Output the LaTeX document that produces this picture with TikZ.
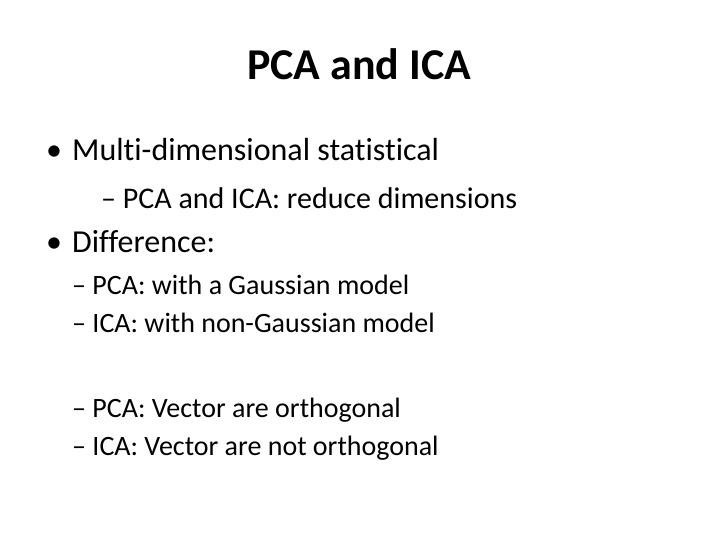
\documentclass[tikz,border=0pt]{standalone}
\usepackage{fontspec}
\setmainfont[Ligatures=NoCommon]{Carlito}
\begin{document}
\begin{tikzpicture}[x=1pt,y=-1pt,
  t/.style={anchor=base west,inner sep=0pt,font=\fontsize{32}{36}\selectfont},
  m/.style={anchor=base west,inner sep=0pt,font=\fontsize{30}{34}\selectfont},
  s/.style={anchor=base west,inner sep=0pt,font=\fontsize{28}{32}\selectfont}]
\useasboundingbox (0,0) rectangle (720,540);
\node[anchor=base,inner sep=0pt,font=\fontsize{44}{48}\selectfont\bfseries] (title) at (359,80) {PCA and ICA};
\node[t] (b1) at (46,161) {•};
\node[t] (l1) at (72,161) {Multi-dimensional statistical};
\node[m] (l2) at (101,208) {– PCA and ICA: reduce dimensions};
\node[t] (b2) at (46,252) {•};
\node[t] (l3) at (72,252) {Difference:};
\node[s] (l4) at (72,294) {– PCA: with a Gaussian model};
\node[s] (l5) at (72,332) {– ICA: with non-Gaussian model};
\node[s] (l6) at (72,417) {– PCA: Vector are orthogonal};
\node[s] (l7) at (72,455) {– ICA: Vector are not orthogonal};
\end{tikzpicture}
\end{document}
